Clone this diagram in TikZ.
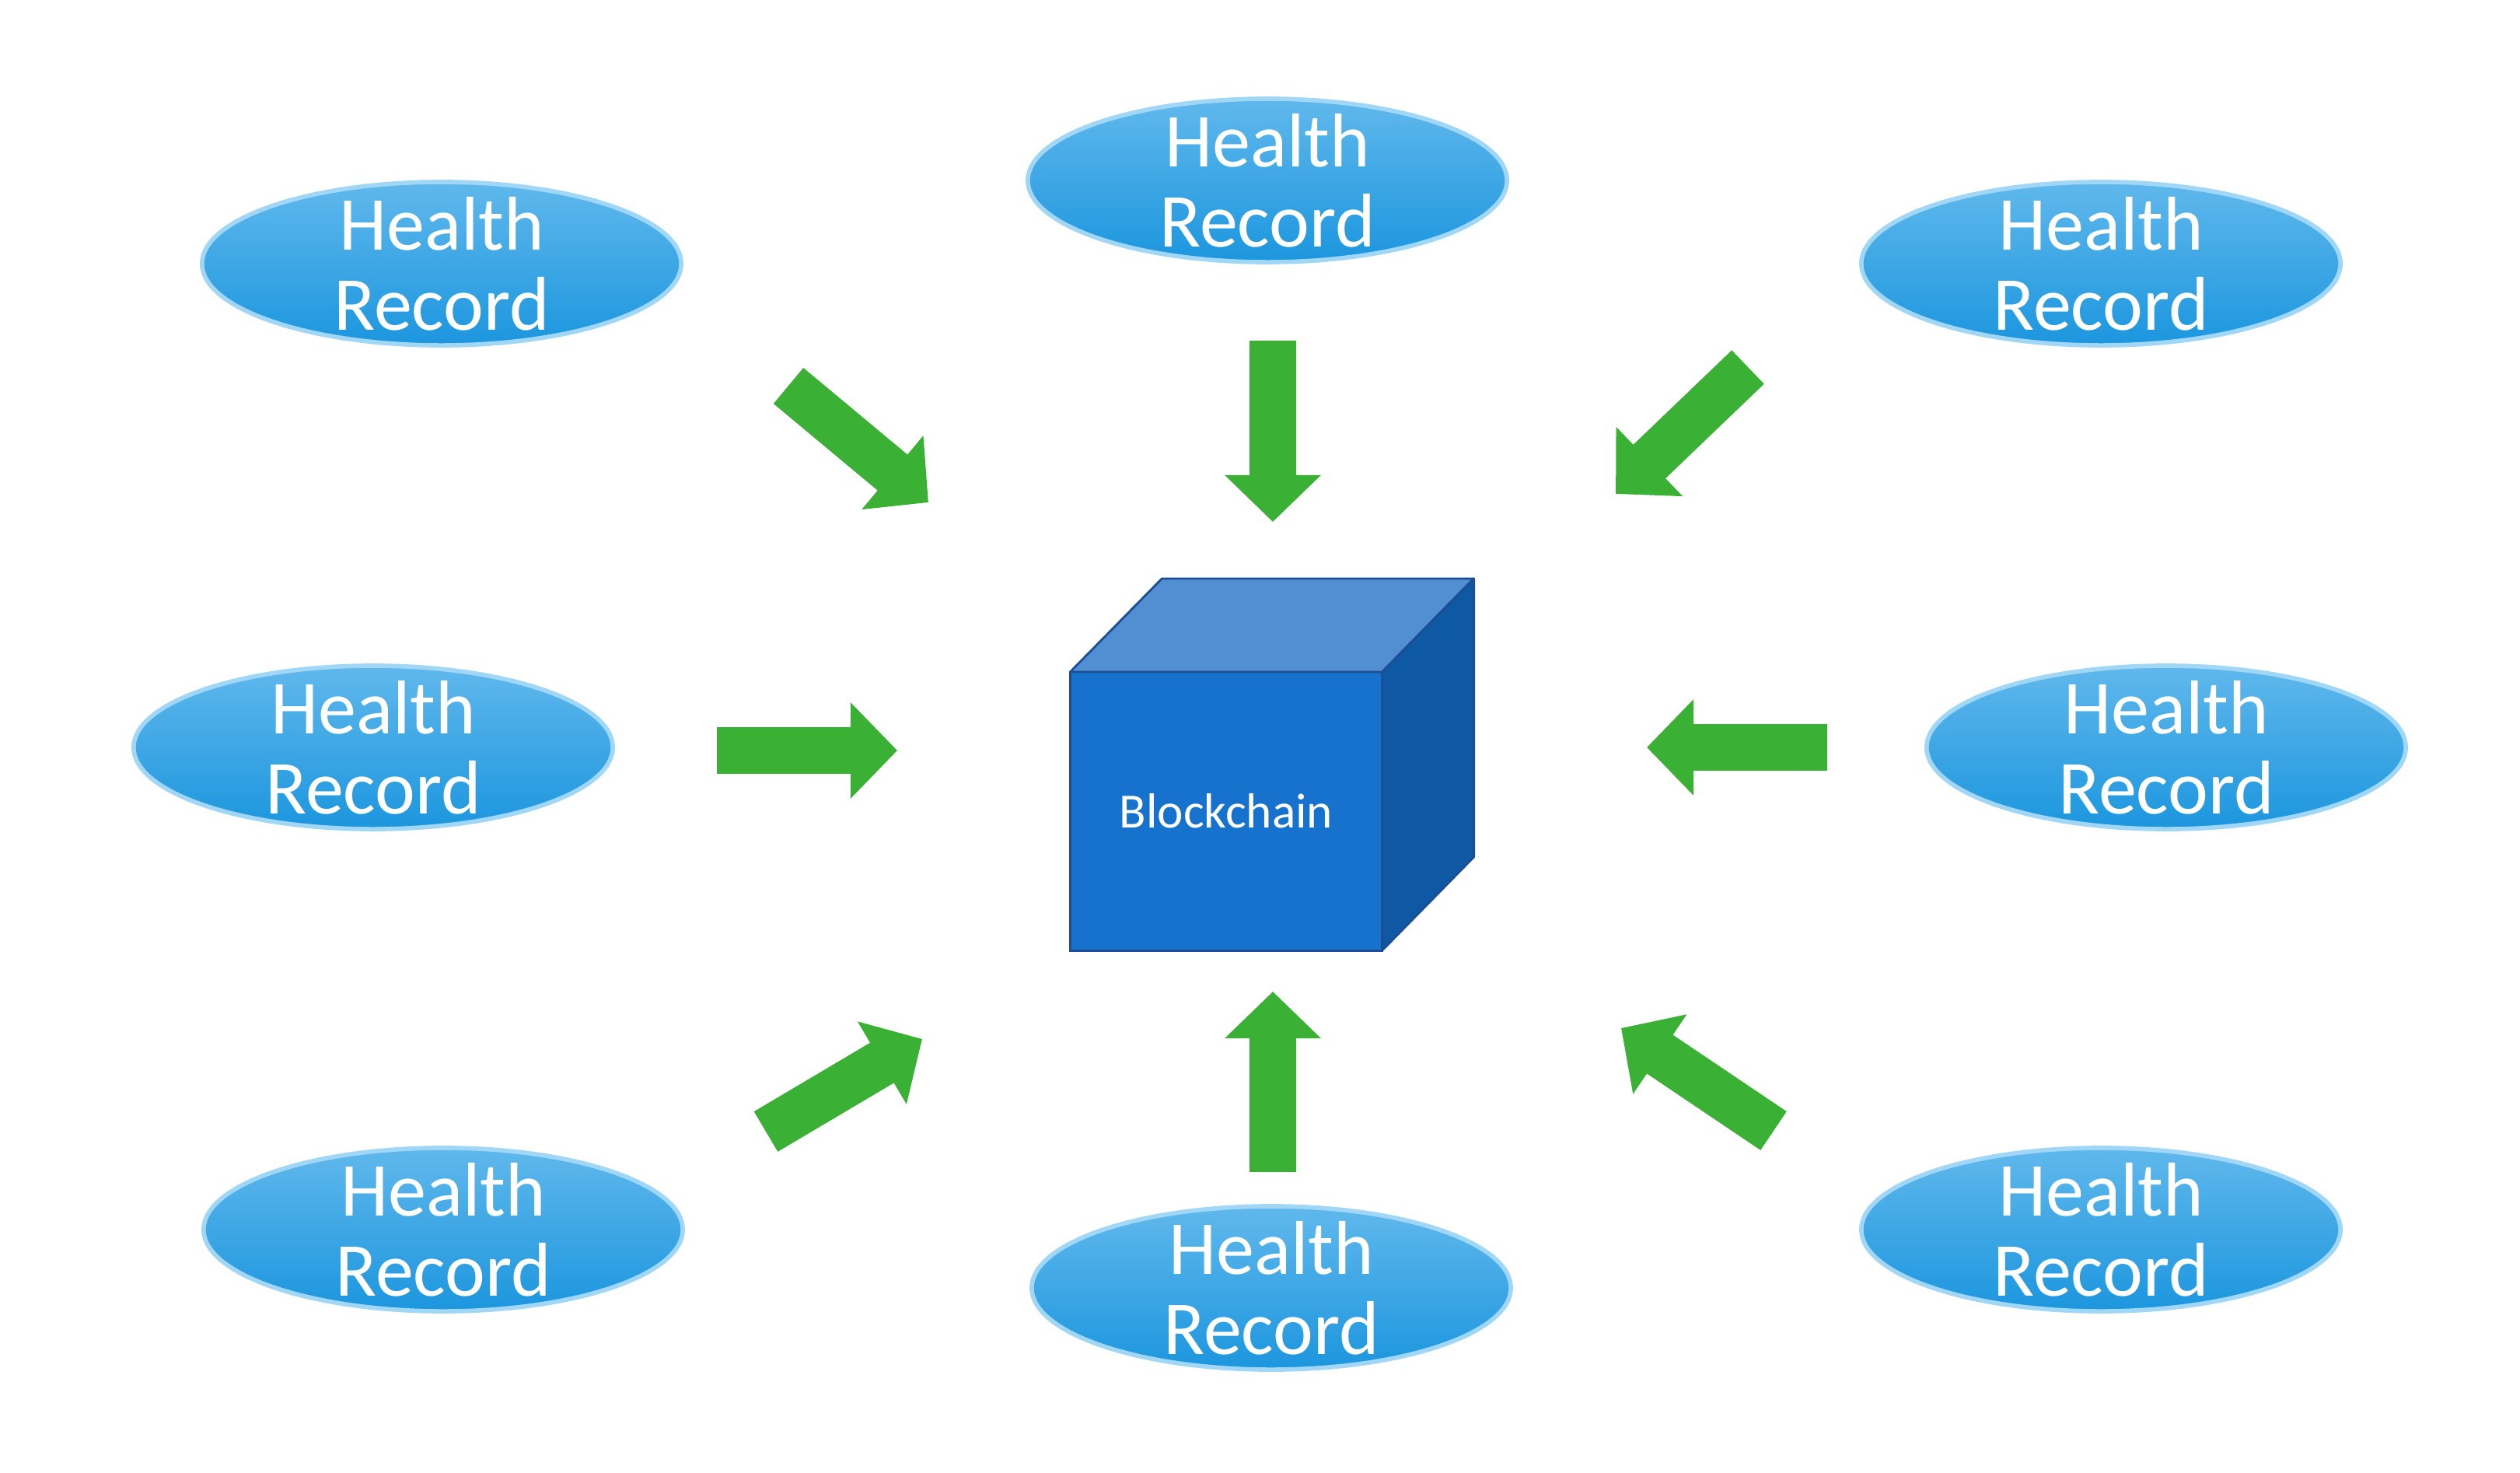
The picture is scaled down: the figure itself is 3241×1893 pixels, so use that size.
\documentclass[tikz,border=0pt]{standalone}
\usepackage{fontspec}
\setmainfont{Carlito}
\usetikzlibrary{arrows.meta, shapes.geometric}
\definecolor{recTop}{RGB}{96,184,236}
\definecolor{recBottom}{RGB}{28,150,222}
\definecolor{recRim}{RGB}{160,214,246}
\definecolor{cubeFront}{RGB}{22,114,204}
\definecolor{cubeTop}{RGB}{82,142,210}
\definecolor{cubeSide}{RGB}{14,88,164}
\definecolor{cubeEdge}{RGB}{28,78,150}
\definecolor{pushGreen}{RGB}{58,176,52}
\tikzset{
record/.style={ellipse, minimum width=6.16cm, minimum height=2.1cm, inner xsep=0pt, inner ysep=-0.25cm,
  top color=recTop, bottom color=recBottom, draw=recRim, line width=1.6pt,
  text=white, align=center, font=\fontsize{27.9}{29.3}\selectfont}, % blue oval with two lines
chain/.style={rectangle, minimum width=4.01cm, minimum height=3.58cm, outer sep=0pt,
  fill=cubeFront, draw=cubeEdge, line width=0.8pt, text=white,
  font=\fontsize{18}{20}\selectfont}, % front face of the block
cubeface/.style={draw=cubeEdge, line width=0.8pt, line join=round},
push/.style={draw=pushGreen, line width=0.6cm, -{Triangle[width=1.2cm,length=0.6cm]}}, % fat green arrow
}
\begin{document}
\begin{tikzpicture}[x=0.01cm, y=-0.01cm]% one unit is one pixel of the sketch
  \useasboundingbox (0,0) rectangle (3241,1893);

  % the block
  \node[chain] (bc) at (1577,1043) {Blockchain};
  \draw[cubeface, fill=cubeTop] (bc.north west) -- ++(118,-120) -- ++(401,0) -- (bc.north east) -- cycle;
  \draw[cubeface, fill=cubeSide] (bc.north east) -- ++(118,-120) -- ++(0,358) -- (bc.south east) -- cycle;

  % the records
  \node[record] (hr1) at (568,339) {Health\\Record};
  \node[record] (hr2) at (1630,232) {Health\\Record};
  \node[record] (hr3) at (2702,339) {Health\\Record};
  \node[record] (hr4) at (480,961) {Health\\Record};
  \node[record] (hr5) at (2786,961) {Health\\Record};
  \node[record] (hr6) at (570,1581) {Health\\Record};
  \node[record] (hr7) at (1635,1656) {Health\\Record};
  \node[record] (hr8) at (2702,1581) {Health\\Record};

  % ends of the arrows
  \coordinate (a1) at (1014,496);  \coordinate (b1) at (1194,646);
  \coordinate (a2) at (1637,438);  \coordinate (b2) at (1637,671);
  \coordinate (a3) at (2248,472);  \coordinate (b3) at (2078,635);
  \coordinate (a4) at (922,965);   \coordinate (b4) at (1154,965);
  \coordinate (a5) at (2350,961);  \coordinate (b5) at (2118,961);
  \coordinate (a6) at (985,1455);  \coordinate (b6) at (1186,1336);
  \coordinate (a7) at (1637,1507); \coordinate (b7) at (1637,1275);
  \coordinate (a8) at (2281,1454); \coordinate (b8) at (2085,1322);

  \draw[push] (a1) -- (b1);
  \draw[push] (a2) -- (b2);
  \draw[push] (a3) -- (b3);
  \draw[push] (a4) -- (b4);
  \draw[push] (a5) -- (b5);
  \draw[push] (a6) -- (b6);
  \draw[push] (a7) -- (b7);
  \draw[push] (a8) -- (b8);
\end{tikzpicture}
\end{document}
